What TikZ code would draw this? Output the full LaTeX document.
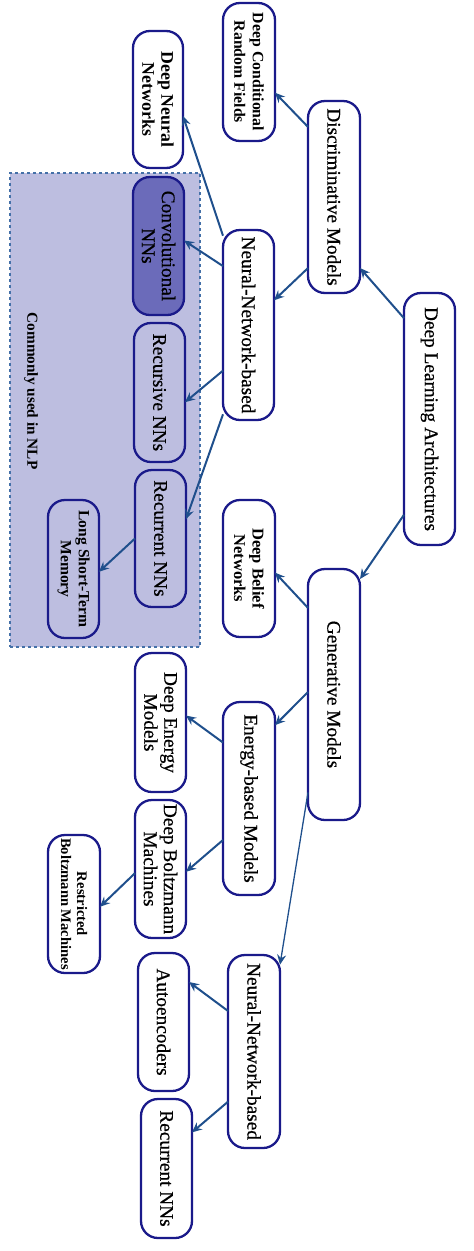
\documentclass[tikz,border=0pt]{standalone}
\usepackage{fontspec}
\setmainfont{Liberation Serif}
\newfontfamily\medfont{Liberation Serif}[FakeBold=0.6]
\usetikzlibrary{calc,arrows.meta}
\definecolor{navy}{HTML}{1A1A8A}
\definecolor{arrowblue}{HTML}{1F4F8C}
\definecolor{nlpfill}{HTML}{BDBEE0}
\definecolor{nlpline}{HTML}{4470A8}
\definecolor{cnnfill}{HTML}{6B6BBA}
\tikzset{
  box/.style={draw=navy, line width=2.3pt, rounded corners=17pt, fill=white, rotate=-90,
    inner sep=0pt, outer sep=0pt, align=center, text=black},
  reg/.style={font=\medfont\fontsize{19.3pt}{20pt}\selectfont},
  bld/.style 2 args={font=\fontsize{#1pt}{#2pt}\selectfont\bfseries},
  conn/.style={draw=arrowblue, line width=2pt, -{Stealth[length=10pt,width=9pt,inset=3.5pt]}},
}
\begin{document}
\begin{tikzpicture}[x=1pt,y=-1pt]
\useasboundingbox (0,0) rectangle (474,1251);
% NLP region
\node[draw=nlpline, dashed, line width=1.1pt, fill=nlpfill, minimum width=190pt, minimum height=474pt, inner sep=0pt, outer sep=0pt] (nlp) at (105,410) {};
\node[rotate=-90, bld={15.3}{17}, inner sep=0pt] (nlplabel) at (31,391) {Commonly used in NLP};

% nodes
\node[box, reg, minimum width=252pt, minimum height=51pt] (dla) at (429.5,419) {Deep Learning Architectures};
\node[box, reg, minimum width=192pt, minimum height=52pt] (disc) at (334,197) {Discriminative Models};
\node[box, reg, minimum width=251pt, minimum height=52pt] (gen) at (334,694.5) {Generative Models};
\node[box, bld={15.8}{18.5}, minimum width=138pt, minimum height=52pt] (dcrf) at (249,72) {Deep Conditional\\Random Fields};
\node[box, bld={17.8}{19}, minimum width=137pt, minimum height=50pt] (dnn) at (158,99.5) {Deep Neural\\Networks};
\node[box, reg, minimum width=190pt, minimum height=51pt] (nntop) at (248.5,325) {Neural-Network-based};
\node[box, reg, fill=cnnfill, minimum width=138pt, minimum height=51pt] (cnn) at (158.5,246) {Convolutional\\NNs};
\node[box, reg, fill=nlpfill, minimum width=139pt, minimum height=51pt] (recu) at (159.5,392.5) {Recursive NNs};
\node[box, reg, fill=nlpfill, minimum width=137pt, minimum height=51pt] (recr) at (160.5,538.5) {Recurrent NNs};
\node[box, bld={15.6}{18}, fill=nlpfill, minimum width=138pt, minimum height=51pt] (lstm) at (73.5,569) {Long Short-Term\\Memory};
\node[box, bld={16.5}{18.5}, minimum width=137pt, minimum height=52pt] (dbn) at (249,568.5) {Deep Belief\\Networks};
\node[box, reg, minimum width=193pt, minimum height=52pt] (energy) at (249,798.5) {Energy-based Models};
\node[box, reg, minimum width=139pt, minimum height=51pt] (dem) at (160.5,722.5) {Deep Energy\\Models};
\node[box, reg, minimum width=138pt, minimum height=51pt] (dbm) at (160.5,869) {Deep Boltzmann\\Machines};
\node[box, bld={14.6}{16}, minimum width=138pt, minimum height=52pt] (rbm) at (74,904) {Restricted\\Boltzmann Machines};
\node[box, reg, minimum width=193pt, minimum height=52pt] (nnbot) at (254,1051.5) {Neural-Network-based};
\node[box, reg, minimum width=138pt, minimum height=51pt] (ae) at (163.5,1022) {Autoencoders};
\node[box, reg, minimum width=139pt, minimum height=51pt] (rnnb) at (166.5,1168.5) {Recurrent NNs};

% connectors
\draw[conn] ($(dla.south west)!0.10!(dla.south east)$) -- ($(disc.north west)!0.87!(disc.north east)$);
\draw[conn] ($(dla.south west)!0.88!(dla.south east)$) -- ($(gen.north west)!0.04!(gen.north east)$);
\draw[conn] ($(disc.south west)!0.135!(disc.south east)$) -- ($(dcrf.north west)!0.65!(dcrf.north east)$);
\draw[conn] ($(disc.south west)!0.87!(disc.south east)$) -- ($(nntop.north west)!0.37!(nntop.north east)$);
\draw[conn] ($(nntop.south west)!0.03!(nntop.south east)$) -- ($(dnn.north west)!0.62!(dnn.north east)$);
\draw[conn] ($(nntop.south west)!0.19!(nntop.south east)$) -- ($(cnn.north west)!0.46!(cnn.north east)$);
\draw[conn] ($(nntop.south west)!0.74!(nntop.south east)$) -- ($(recu.north west)!0.57!(recu.north east)$);
\draw[conn] ($(nntop.south west)!0.97!(nntop.south east)$) -- ($(recr.north west)!0.36!(recr.north east)$);
\draw[conn] ($(recr.south west)!0.50!(recr.south east)$) -- ($(lstm.north west)!0.52!(lstm.north east)$);
\draw[conn] ($(gen.south west)!0.155!(gen.south east)$) -- ($(dbn.north west)!0.53!(dbn.north east)$);
\draw[conn] ($(gen.south west)!0.49!(gen.south east)$) -- ($(energy.north west)!0.12!(energy.north east)$);
\draw[conn, line width=1.3pt] ($(gen.south west)!0.89!(gen.south east)$) -- ($(nnbot.north west)!0.05!(nnbot.north east)$);
\draw[conn] ($(energy.south west)!0.21!(energy.south east)$) -- ($(dem.north west)!0.45!(dem.north east)$);
\draw[conn] ($(energy.south west)!0.715!(energy.south east)$) -- ($(dbm.north west)!0.52!(dbm.north east)$);
\draw[conn] ($(dbm.south west)!0.53!(dbm.south east)$) -- ($(rbm.north west)!0.52!(rbm.north east)$);
\draw[conn] ($(nnbot.south west)!0.29!(nnbot.south east)$) -- ($(ae.north west)!0.21!(ae.north east)$);
\draw[conn] ($(nnbot.south west)!0.76!(nnbot.south east)$) -- ($(rnnb.north west)!0.24!(rnnb.north east)$);
\end{tikzpicture}
\end{document}
